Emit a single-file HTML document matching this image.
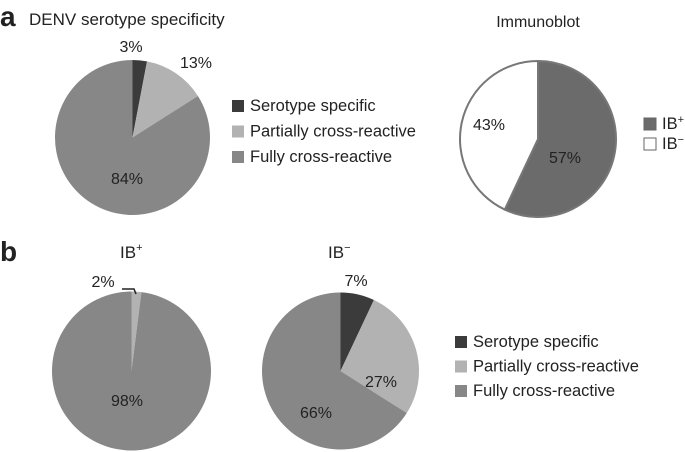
<!DOCTYPE html>
<html><head><meta charset="utf-8"><style>
body{margin:0;background:#fff;}
svg{display:block;font-family:"Liberation Sans",Arial,sans-serif;}
</style></head><body>
<svg id="c" width="685" height="452" viewBox="0 0 685 452">
<text x="0" y="26" font-size="28" font-weight="bold" fill="#222">a</text>
<text x="29" y="25" font-size="17" fill="#222">DENV serotype specificity</text>
<text x="538" y="27" font-size="16" fill="#222" text-anchor="middle">Immunoblot</text>
<text x="0" y="261" font-size="28" font-weight="bold" fill="#222">b</text>
<text x="120" y="258" font-size="17" fill="#222">IB<tspan dy="-7" font-size="11">+</tspan></text>
<text x="328" y="258" font-size="17" fill="#222">IB<tspan dy="-7" font-size="11">−</tspan></text>
<g id="pies"></g>
<g id="legends"></g>
<path d="M122 289 L134 289 L136 294" fill="none" stroke="#222" stroke-width="1.5"/>
</svg>
<script>
const cats = ["Serotype specific","Partially cross-reactive","Fully cross-reactive"];
const pie1Values = [3,13,84];
const pie2Cats = ["IB+","IB−"];
const pie2Values = [57,43];
const pie3Values = [0,2,98];
const pie4Values = [7,27,66];
const colors = ["#3b3b3b","#b2b2b2","#878787"];
const ns="http://www.w3.org/2000/svg";
const gp=document.getElementById('pies');
function el(t,a,p){const e=document.createElementNS(ns,t);for(const k in a)e.setAttribute(k,a[k]);p.appendChild(e);return e;}
function pie(name,cx,cy,r,vals,cols,labels,stroke){
  const tot=vals.reduce((a,b)=>a+b,0);let a0=0;
  vals.forEach((v,i)=>{
    if(v<=0)return;
    const a1=a0+v/tot*2*Math.PI;
    const x0=cx+r*Math.sin(a0),y0=cy-r*Math.cos(a0),x1=cx+r*Math.sin(a1),y1=cy-r*Math.cos(a1);
    const large=(a1-a0)>Math.PI?1:0;
    const p=el('path',{d:`M${cx} ${cy} L${x0} ${y0} A${r} ${r} 0 ${large} 1 ${x1} ${y1} Z`,fill:cols[i],stroke:stroke||'none','stroke-width':stroke?2:0},gp);
    
    
    const l=labels[i];
    if(l){const t=el('text',{x:l[0],y:l[1],'font-size':16,fill:'#222','text-anchor':'middle'},gp);t.textContent=v+'%';
      
      }
    a0=a1;
  });
}
pie('pie1',132.5,137.5,77.5,pie1Values,colors,[[131,52],[196,68],[127,184]]);
pie('pie2',538,139,78,pie2Values,["#6b6b6b","#fff"],[[565,163],[489,130]],"#777");
pie('pie3',131.5,371,79.5,pie3Values,colors,[null,[103,287],[127,406]]);
pie('pie4',340.5,371,78.5,pie4Values,colors,[[356,286],[381,387],[316,418]]);
const gl=document.getElementById('legends');
function legend(name,x,y,items,cols,step,strokes){
  items.forEach((s,i)=>{
    const r=el('rect',{x:x,y:y+i*step-11,width:12,height:12,fill:cols[i],stroke:strokes?'#666':'none','stroke-width':1},gl);
    
    
    const t=el('text',{x:x+18,y:y+i*step,'font-size':16.5,fill:'#222'},gl);
    if(s.startsWith('IB')){t.textContent='IB';const ts=el('tspan',{dy:-6,'font-size':11},t);ts.textContent=s.slice(2);}
    else t.textContent=s;
    
    
  });
}
legend('legend-a',232,111,cats,colors,25.5);
legend('legend-ib',644,129,pie2Cats,["#6b6b6b","#fff"],20,true);
legend('legend-b',455,347,cats,colors,24.5);
</script>
</body></html>
